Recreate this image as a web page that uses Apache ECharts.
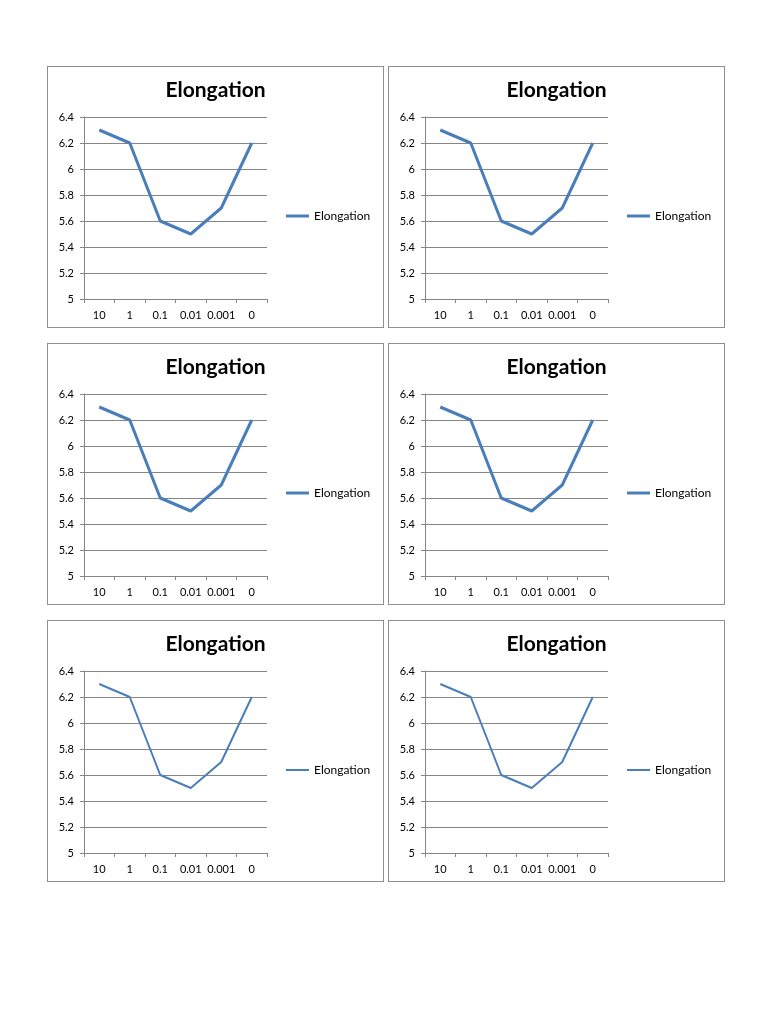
<!DOCTYPE html>
<html>
<head>
<meta charset="utf-8">
<script src="https://cdn.jsdelivr.net/npm/echarts@6/dist/echarts.min.js"></script>
<style>
  body { margin: 0; background: #fff; }
  .panel { position: absolute; width: 337px; height: 262px; box-sizing: border-box; border: 1px solid #8f8f8f; background: #fff; }
</style>
</head>
<body>
<div id="c0" class="panel" style="left:47px;top:66px"></div>
<div id="c1" class="panel" style="left:388px;top:66px"></div>
<div id="c2" class="panel" style="left:47px;top:343px"></div>
<div id="c3" class="panel" style="left:388px;top:343px"></div>
<div id="c4" class="panel" style="left:47px;top:620px"></div>
<div id="c5" class="panel" style="left:388px;top:620px"></div>
<script>
var categories = ['10', '1', '0.1', '0.01', '0.001', '0'];
var elongation = [6.3, 6.2, 5.6, 5.5, 5.7, 6.2];
var yMin = 5, yMax = 6.4, yStep = 0.2;
var titleText = 'Elongation';
var seriesName = 'Elongation';
// the bottom two charts use a thinner line
var lineWidths = [3, 3, 3, 3, 2, 2];

var font = 'Lato, "Open Sans", sans-serif';

for (var i = 0; i < 6; i++) {
  var myChart = echarts.init(document.getElementById('c' + i));
  var option = {
    animation: false,
    title: {
      text: titleText,
      left: 'center', top: 8,
      textStyle: { fontFamily: font, fontSize: 21, fontWeight: 'bold', color: '#000' }
    },
    legend: {
      data: [seriesName],
      icon: 'rect',
      left: 233, top: 138,
      itemWidth: 23, itemHeight: lineWidths[i],
      textStyle: { fontFamily: font, fontSize: 12, color: '#000' }
    },
    grid: { left: 36, top: 50, width: 183, height: 182 },
    xAxis: {
      type: 'category',
      data: categories,
      boundaryGap: true,
      axisLine: { lineStyle: { color: '#868686', width: 1 } },
      axisTick: { show: true, length: 4, interval: 0, lineStyle: { color: '#868686' } },
      axisLabel: { interval: 0, fontFamily: font, fontSize: 11, color: '#000', margin: 11 }
    },
    yAxis: {
      type: 'value',
      min: yMin, max: yMax, interval: yStep,
      axisLine: { show: true, lineStyle: { color: '#868686', width: 1 } },
      axisTick: { show: true, length: 4, lineStyle: { color: '#868686' } },
      splitLine: { lineStyle: { color: '#868686', width: 1 } },
      axisLabel: { fontFamily: font, fontSize: 11, color: '#000', margin: 10 }
    },
    series: [{
      name: seriesName,
      type: 'line',
      data: elongation,
      symbol: 'none',
      lineStyle: { color: '#4a7ebb', width: lineWidths[i] },
      itemStyle: { color: '#4a7ebb' }
    }]
  };
  myChart.setOption(option);
}
</script>
</body>
</html>
